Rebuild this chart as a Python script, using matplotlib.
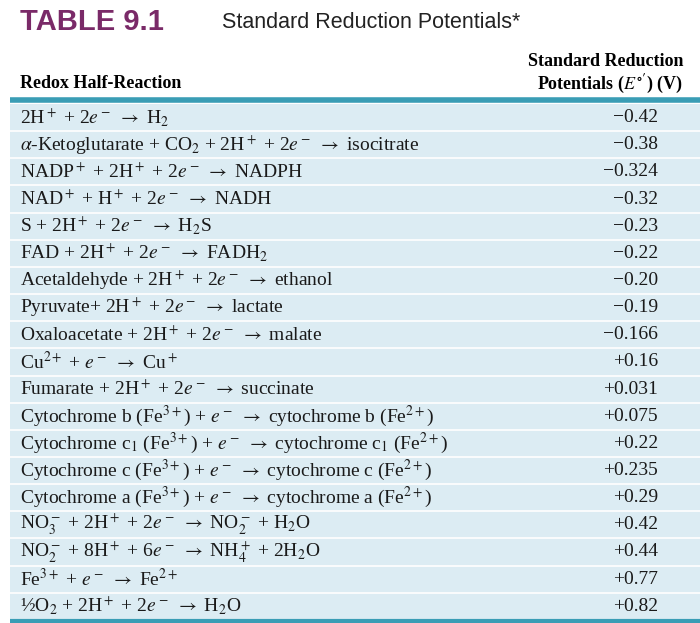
import matplotlib.pyplot as plt
from matplotlib.patches import Rectangle

plt.rcParams['mathtext.fontset'] = 'stix'
plt.rcParams['font.family'] = ['Liberation Serif', 'DejaVu Serif']

reactions = [
    r'2H$^+$ + 2$e^-$ $\rightarrow$ H$_2$',
    r'$\alpha$-Ketoglutarate + CO$_2$ + 2H$^+$ + 2$e^-$ $\rightarrow$ isocitrate',
    r'NADP$^+$ + 2H$^+$ + 2$e^-$ $\rightarrow$ NADPH',
    r'NAD$^+$ + H$^+$ + 2$e^-$ $\rightarrow$ NADH',
    r'S + 2H$^+$ + 2$e^-$ $\rightarrow$ H$_2$S',
    r'FAD + 2H$^+$ + 2$e^-$ $\rightarrow$ FADH$_2$',
    r'Acetaldehyde + 2H$^+$ + 2$e^-$ $\rightarrow$ ethanol',
    r'Pyruvate+ 2H$^+$ + 2$e^-$ $\rightarrow$ lactate',
    r'Oxaloacetate + 2H$^+$ + 2$e^-$ $\rightarrow$ malate',
    r'Cu$^{2+}$ + $e^-$ $\rightarrow$ Cu$^+$',
    r'Fumarate + 2H$^+$ + 2$e^-$ $\rightarrow$ succinate',
    r'Cytochrome b (Fe$^{3+}$) + $e^-$ $\rightarrow$ cytochrome b (Fe$^{2+}$)',
    r'Cytochrome c$_1$ (Fe$^{3+}$) + $e^-$ $\rightarrow$ cytochrome c$_1$ (Fe$^{2+}$)',
    r'Cytochrome c (Fe$^{3+}$) + $e^-$ $\rightarrow$ cytochrome c (Fe$^{2+}$)',
    r'Cytochrome a (Fe$^{3+}$) + $e^-$ $\rightarrow$ cytochrome a (Fe$^{2+}$)',
    r'NO$_3^-$ + 2H$^+$ + 2$e^-$ $\rightarrow$ NO$_2^-$ + H$_2$O',
    r'NO$_2^-$ + 8H$^+$ + 6$e^-$ $\rightarrow$ NH$_4^+$ + 2H$_2$O',
    r'Fe$^{3+}$ + $e^-$ $\rightarrow$ Fe$^{2+}$',
    r'½O$_2$ + 2H$^+$ + 2$e^-$ $\rightarrow$ H$_2$O',
]
potentials = ['−0.42', '−0.38', '−0.324', '−0.32', '−0.23', '−0.22', '−0.20',
              '−0.19', '−0.166', '+0.16', '+0.031', '+0.075', '+0.22', '+0.235',
              '+0.29', '+0.42', '+0.44', '+0.77', '+0.82']

W, H = 700, 623
fig = plt.figure(figsize=(7, 6.23), dpi=100)
ax = fig.add_axes([0, 0, 1, 1])
ax.set_xlim(0, W)
ax.set_ylim(H, 0)
ax.axis('off')

teal = '#3a9db5'
ax.text(20, 22, 'TABLE 9.1', fontsize=21, fontweight='bold', color='#7a2a68',
        family='Liberation Sans', va='center')
ax.text(222, 22, 'Standard Reduction Potentials*', fontsize=15.5, color='#222222',
        family='Liberation Sans', va='center')
ax.text(20, 83, 'Redox Half-Reaction', fontsize=13, fontweight='bold', va='center')
ax.text(683, 61, 'Standard Reduction', fontsize=13, fontweight='bold', va='center', ha='right')
ax.text(683, 83, r'Potentials ($\mathbf{\mathit{E}^{\circ\prime}}$) (V)', fontsize=13,
        fontweight='bold', va='center', ha='right')

top, pitch = 104, 27.15
ax.add_patch(Rectangle((10, top), 690, pitch * len(reactions), color='#dcecf3', lw=0))
ax.plot([10, 700], [100, 100], color=teal, lw=4, solid_capstyle='butt')
for i, (r, p) in enumerate(zip(reactions, potentials)):
    y = top + pitch * (i + 0.5)
    if i > 0:
        ax.plot([10, 700], [top + pitch * i] * 2, color='white', lw=1.2)
    ax.text(20, y, r, fontsize=14, va='center', color='#1a1a1a')
    ax.text(658, y, p, fontsize=14, va='center', ha='right', color='#1a1a1a')
ax.plot([10, 700], [top + pitch * len(reactions) + 1] * 2, color=teal, lw=3, solid_capstyle='butt')

fig.savefig('out.png', dpi=100)
